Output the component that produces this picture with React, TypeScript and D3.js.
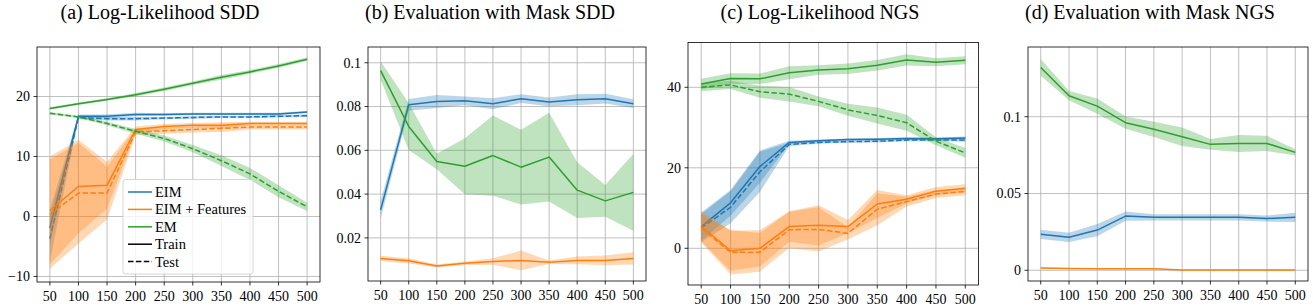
import React from "react";
import * as d3 from "d3";

// ---------- data ----------
const xValues = [50, 100, 150, 200, 250, 300, 350, 400, 450, 500];
const xTickLabels = ["50", "100", "150", "200", "250", "300", "350", "400", "450", "500"];

const methodNames = ["EIM", "EIM + Features", "EM"];
const splitNames = ["Train", "Test"];

// (a) Log-Likelihood SDD
const aEimTrain = [-1.9, 16.7, 16.7, 17.0, 17.0, 17.1, 17.1, 17.1, 17.1, 17.4];
const aEimTrainSd = [3.0, 0.3, 0.3, 0.3, 0.2, 0.2, 0.2, 0.2, 0.2, 0.2];
const aEimTest = [-3.7, 16.5, 16.3, 16.3, 16.4, 16.5, 16.6, 16.6, 16.7, 16.8];
const aEimTestSd = [3.8, 0.3, 0.3, 0.3, 0.2, 0.2, 0.2, 0.2, 0.2, 0.2];
const aFeatTrain = [1.0, 5.0, 5.2, 14.5, 15.0, 15.2, 15.2, 15.5, 15.5, 15.5];
const aFeatTrainSd = [9.0, 7.8, 3.9, 0.5, 0.4, 0.4, 0.5, 0.3, 0.3, 0.3];
const aFeatTest = [0.4, 3.9, 3.9, 14.1, 14.3, 14.5, 14.7, 14.9, 14.9, 14.9];
const aFeatTestSd = [9.1, 8.4, 4.4, 0.5, 0.5, 0.5, 0.6, 0.4, 0.4, 0.4];
const aEmTrain = [18.0, 18.8, 19.5, 20.3, 21.2, 22.2, 23.2, 24.1, 25.1, 26.2];
const aEmTrainSd = [0.2, 0.2, 0.2, 0.3, 0.3, 0.3, 0.4, 0.3, 0.3, 0.3];
const aEmTest = [17.2, 16.6, 15.5, 14.2, 13.0, 11.3, 9.3, 7.1, 4.2, 1.6];
const aEmTestSd = [0.2, 0.2, 0.3, 0.4, 0.5, 0.6, 0.9, 1.0, 1.0, 0.7];
const aYTicks = [-10, 0, 10, 20];
const aYTickLabels = ["\u221210", "0", "10", "20"];

// (b) Evaluation with Mask SDD
const bEim = [0.0328, 0.0808, 0.0823, 0.0826, 0.0813, 0.0836, 0.0821, 0.0831, 0.0836, 0.0813];
const bEimSd = [0.004, 0.0027, 0.003, 0.002, 0.0025, 0.002, 0.002, 0.0025, 0.0022, 0.002];
const bFeat = [0.0106, 0.0095, 0.0072, 0.0084, 0.0092, 0.0097, 0.0089, 0.0097, 0.0097, 0.0106];
const bFeatSd = [0.0012, 0.0012, 0.0006, 0.0008, 0.0015, 0.0045, 0.0008, 0.0018, 0.0022, 0.0028];
const bEm = [0.0964, 0.0709, 0.0549, 0.0527, 0.0576, 0.0523, 0.0569, 0.0418, 0.0369, 0.0408];
const bEmSd = [0.0042, 0.0107, 0.0035, 0.0128, 0.0183, 0.0171, 0.0203, 0.0127, 0.0073, 0.0175];
const bYTicks = [0.02, 0.04, 0.06, 0.08, 0.1];
const bYTickLabels = ["0.02", "0.04", "0.06", "0.08", "0.1"];

// (c) Log-Likelihood NGS
const cEimTrain = [5.4, 11.3, 20.3, 26.3, 26.7, 27.0, 27.1, 27.3, 27.2, 27.4];
const cEimTrainSd = [3.5, 3.2, 4.0, 0.4, 0.3, 0.3, 0.3, 0.3, 0.3, 0.4];
const cEimTest = [5.0, 10.2, 19.0, 25.8, 26.3, 26.5, 26.6, 26.9, 26.9, 26.9];
const cEimTestSd = [3.5, 4.0, 5.0, 0.4, 0.3, 0.3, 0.3, 0.3, 0.3, 0.4];
const cFeatTrain = [5.5, -0.6, 0.0, 5.4, 5.7, 5.4, 11.0, 12.2, 14.2, 14.9];
const cFeatTrainSd = [3.8, 5.0, 4.5, 3.8, 5.0, 1.6, 3.5, 1.0, 1.0, 1.0];
const cFeatTest = [5.0, -1.0, -1.0, 4.6, 4.7, 3.7, 9.7, 11.6, 13.5, 14.1];
const cFeatTestSd = [3.5, 5.5, 4.8, 4.5, 5.5, 1.5, 4.0, 1.2, 1.0, 0.9];
const cEmTrain = [40.8, 42.2, 42.1, 43.6, 44.3, 44.6, 45.5, 46.8, 46.2, 46.7];
const cEmTrainSd = [1.3, 1.3, 1.3, 1.6, 1.2, 1.3, 1.3, 1.4, 1.0, 1.0];
const cEmTest = [40.0, 40.6, 38.9, 38.3, 36.5, 34.4, 33.0, 31.2, 26.6, 23.7];
const cEmTestSd = [1.0, 1.0, 1.5, 1.8, 1.2, 1.5, 2.0, 2.0, 1.0, 1.2];
const cYTicks = [0, 20, 40];
const cYTickLabels = ["0", "20", "40"];

// (d) Evaluation with Mask NGS
const dEim = [0.0234, 0.0215, 0.0262, 0.0353, 0.0345, 0.0345, 0.0345, 0.0345, 0.0337, 0.0345];
const dEimSd = [0.003, 0.003, 0.004, 0.003, 0.002, 0.002, 0.002, 0.002, 0.002, 0.003];
const dFeat = [0.0015, 0.0011, 0.001, 0.001, 0.001, 0.0002, 0.0002, 0.0002, 0.0002, 0.0002];
const dFeatSd = [0.0004, 0.0003, 0.0003, 0.0003, 0.0003, 0.0002, 0.0002, 0.0002, 0.0002, 0.0002];
const dEm = [0.1321, 0.1137, 0.1069, 0.0961, 0.0918, 0.087, 0.082, 0.0826, 0.0826, 0.0768];
const dEmSd = [0.0055, 0.003, 0.005, 0.004, 0.005, 0.006, 0.0035, 0.0055, 0.005, 0.002];
const dYTicks = [0, 0.05, 0.1];
const dYTickLabels = ["0", "0.05", "0.1"];

const titles = [
  "(a) Log-Likelihood SDD",
  "(b) Evaluation with Mask SDD",
  "(c) Log-Likelihood NGS",
  "(d) Evaluation with Mask NGS",
];

// ---------- styling / layout ----------
const COLORS = ["#1f77b4", "#ff7f0e", "#2ca02c"];
const FONT = "Liberation Serif, DejaVu Serif, serif";
const X_DOMAIN: [number, number] = [27.5, 522.5];

type Series = { mean: number[]; sd: number[]; color: string; dashed: boolean };
type Panel = {
  title: string;
  titleX: number;
  box: { left: number; right: number; top: number; bottom: number };
  yDomain: [number, number];
  yTicks: number[];
  yTickLabels: string[];
  series: Series[];
  legend?: boolean;
};

const s = (mean: number[], sd: number[], ci: number, dashed = false): Series => ({
  mean,
  sd,
  color: COLORS[ci],
  dashed,
});

const panels: Panel[] = [
  {
    title: titles[0],
    titleX: 160,
    box: { left: 37, right: 320, top: 47, bottom: 282 },
    yDomain: [-10.92, 28.25],
    yTicks: aYTicks,
    yTickLabels: aYTickLabels,
    series: [
      s(aEimTrain, aEimTrainSd, 0),
      s(aEimTest, aEimTestSd, 0, true),
      s(aFeatTrain, aFeatTrainSd, 1),
      s(aFeatTest, aFeatTestSd, 1, true),
      s(aEmTrain, aEmTrainSd, 2),
      s(aEmTest, aEmTestSd, 2, true),
    ],
    legend: true,
  },
  {
    title: titles[1],
    titleX: 490,
    box: { left: 368, right: 646, top: 47, bottom: 281 },
    yDomain: [0.0003, 0.1072],
    yTicks: bYTicks,
    yTickLabels: bYTickLabels,
    series: [s(bEim, bEimSd, 0), s(bFeat, bFeatSd, 1), s(bEm, bEmSd, 2)],
  },
  {
    title: titles[2],
    titleX: 820,
    box: { left: 688, right: 978.5, top: 42.5, bottom: 285 },
    yDomain: [-9.12, 51.13],
    yTicks: cYTicks,
    yTickLabels: cYTickLabels,
    series: [
      s(cEimTrain, cEimTrainSd, 0),
      s(cEimTest, cEimTestSd, 0, true),
      s(cFeatTrain, cFeatTrainSd, 1),
      s(cFeatTest, cFeatTestSd, 1, true),
      s(cEmTrain, cEmTrainSd, 2),
      s(cEmTest, cEmTestSd, 2, true),
    ],
  },
  {
    title: titles[3],
    titleX: 1150,
    box: { left: 1028, right: 1308, top: 47, bottom: 281 },
    yDomain: [-0.00697, 0.1454],
    yTicks: dYTicks,
    yTickLabels: dYTickLabels,
    series: [s(dEim, dEimSd, 0), s(dFeat, dFeatSd, 1), s(dEm, dEmSd, 2)],
  },
];

function PanelView({ p, idx }: { p: Panel; idx: number }) {
  const { left, right, top, bottom } = p.box;
  const x = d3.scaleLinear().domain(X_DOMAIN).range([left, right]);
  const y = d3.scaleLinear().domain(p.yDomain).range([bottom, top]);
  const clipId = `clip-${idx}`;
  const pts = xValues.map((v, i) => i);

  return (
    <g>
      <defs>
        <clipPath id={clipId}>
          <rect x={left} y={top} width={right - left} height={bottom - top} />
        </clipPath>
      </defs>
      <text x={p.titleX} y={19} textAnchor="middle" style={{ fontFamily: FONT, fontSize: 20 }} fill="#000">
        {p.title}
      </text>
      {/* grid */}
      <g stroke="#b0b0b0" strokeWidth={0.8}>
        {xValues.map((v) => (
          <line key={`gx${v}`} x1={x(v)} x2={x(v)} y1={top} y2={bottom} />
        ))}
        {p.yTicks.map((v) => (
          <line key={`gy${v}`} x1={left} x2={right} y1={y(v)} y2={y(v)} />
        ))}
      </g>
      {/* bands and lines */}
      <g clipPath={`url(#${clipId})`}>
        {p.series.map((se, k) => {
          const area = d3
            .area<number>()
            .x((i) => x(xValues[i]))
            .y0((i) => y(se.mean[i] - se.sd[i]))
            .y1((i) => y(se.mean[i] + se.sd[i]));
          const line = d3
            .line<number>()
            .x((i) => x(xValues[i]))
            .y((i) => y(se.mean[i]));
          return (
            <g key={k}>
              <path d={area(pts) || ""} fill={se.color} fillOpacity={0.3} stroke="none" />
              <path
                d={line(pts) || ""}
                fill="none"
                stroke={se.color}
                strokeWidth={1.5}
                strokeDasharray={se.dashed ? "5.5 2.4" : undefined}
                strokeLinejoin="round"
              />
            </g>
          );
        })}
      </g>
      {/* frame */}
      <rect
        x={left}
        y={top}
        width={right - left}
        height={bottom - top}
        fill="none"
        stroke="#000"
        strokeWidth={0.8}
      />
      {/* x ticks */}
      {xValues.map((v, i) => (
        <g key={`tx${v}`}>
          <line x1={x(v)} x2={x(v)} y1={bottom} y2={bottom + 3.5} stroke="#000" strokeWidth={0.8} />
          <text
            x={x(v)}
            y={bottom + 19}
            textAnchor="middle"
            style={{ fontFamily: FONT, fontSize: 14 }}
            fill="#000"
          >
            {xTickLabels[i]}
          </text>
        </g>
      ))}
      {/* y ticks */}
      {p.yTicks.map((v, i) => (
        <g key={`ty${v}`}>
          <line x1={left - 3.5} x2={left} y1={y(v)} y2={y(v)} stroke="#000" strokeWidth={0.8} />
          <text
            x={left - 7}
            y={y(v)}
            dy="0.35em"
            textAnchor="end"
            style={{ fontFamily: FONT, fontSize: 14 }}
            fill="#000"
          >
            {p.yTickLabels[i]}
          </text>
        </g>
      ))}
      {p.legend && <Legend left={123} top={179.5} />}
    </g>
  );
}

function Legend({ left, top }: { left: number; top: number }) {
  const entries = [
    { label: methodNames[0], color: COLORS[0], dashed: false },
    { label: methodNames[1], color: COLORS[1], dashed: false },
    { label: methodNames[2], color: COLORS[2], dashed: false },
    { label: splitNames[0], color: "#000", dashed: false },
    { label: splitNames[1], color: "#000", dashed: true },
  ];
  const rowH = 17.4;
  return (
    <g>
      <rect
        x={left}
        y={top}
        width={130}
        height={94.5}
        rx={2.5}
        fill="#fff"
        fillOpacity={0.8}
        stroke="#cccccc"
        strokeWidth={0.8}
      />
      {entries.map((e, i) => {
        const cy = top + 12.5 + i * rowH;
        return (
          <g key={e.label}>
            <line
              x1={left + 5}
              x2={left + 29}
              y1={cy}
              y2={cy}
              stroke={e.color}
              strokeWidth={1.5}
              strokeDasharray={e.dashed ? "5.5 2.4" : undefined}
            />
            <text
              x={left + 32}
              y={cy}
              dy="0.35em"
              style={{ fontFamily: FONT, fontSize: 14.5 }}
              fill="#000"
            >
              {e.label}
            </text>
          </g>
        );
      })}
    </g>
  );
}

export default function App() {
  return (
    <svg
      width={1313}
      height={308}
      style={{ position: "absolute", left: 0, top: 0, background: "#fff" }}
    >
      <rect width={1313} height={308} fill="#fff" />
      {panels.map((p, i) => (
        <PanelView key={i} p={p} idx={i} />
      ))}
    </svg>
  );
}
